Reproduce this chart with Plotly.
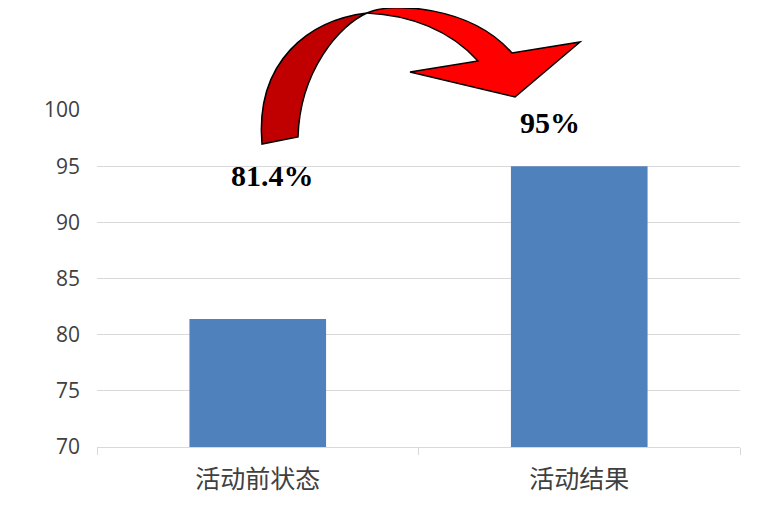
import plotly.graph_objects as go

# data
categories = ['活动前状态', '活动结果']
values = [81.4, 95]
y_ticks = [70, 75, 80, 85, 90, 95, 100]

# page body adds an 8px margin, so the figure is drawn 8px smaller
OFF = 8
W, H = 760 - OFF, 507 - OFF
L, R, T, B = 97 - OFF, 20, 110 - OFF, 60
pw, ph = W - L - R, H - T - B

def px(x, y):
    # screen pixel coords -> paper coords
    x, y = x - OFF, y - OFF
    return (x - L) / pw, (H - B - y) / ph

def path(cmds):
    out = []
    for c in cmds:
        if isinstance(c, str):
            out.append(c)
        else:
            xx, yy = px(*c)
            out.append('%.4f,%.4f' % (xx, yy))
    return ' '.join(out)

# curved arrow, back (dark) part and front (bright) part
dark = path(['M', (262, 144), 'C', (255, 60), (310, 20), (367, 13),
             'C', (340, 25), (300, 70), (298, 137), 'Z'])
bright = path(['M', (367, 13), 'C', (390, 2), (470, 5), (512, 53),
               'L', (580, 42), 'L', (515, 97), 'L', (410, 72), 'L', (478, 61),
               'C', (450, 30), (410, 15), (367, 13), 'Z'])

fig = go.Figure()
fig.add_trace(go.Bar(
    x=categories,
    y=values,
    width=0.425,
    marker=dict(color='#4F81BD', line=dict(width=0)),
    showlegend=False))

fig.add_shape(type='path', path=dark, xref='paper', yref='paper',
              fillcolor='#C00000', line=dict(color='black', width=1.5))
fig.add_shape(type='path', path=bright, xref='paper', yref='paper',
              fillcolor='#FF0000', line=dict(color='black', width=1.5))

label_pos = [(15, 175), (-29, 122)]
for c, v, (dx, yp) in zip(categories, values, label_pos):
    fig.add_annotation(
        x=c, y=px(0, yp)[1], xref='x', yref='paper',
        xanchor='center', yanchor='middle',
        xshift=dx, text='<b>%s%%</b>' % ('%g' % v), showarrow=False,
        font=dict(family='Liberation Serif', size=30, color='black'))

fig.update_layout(
    width=W, height=H,
    margin=dict(l=L, r=R, t=T, b=B),
    paper_bgcolor='white', plot_bgcolor='white',
    bargap=0.575,
    xaxis=dict(
        showline=True, linecolor='#D9D9D9', linewidth=1,
        ticks='outside', tickson='boundaries', ticklen=7, tickcolor='#D9D9D9',
        ticklabelstandoff=10,
        tickfont=dict(family='Noto Sans CJK SC', size=25, color='#404040'),
        showgrid=False),
    yaxis=dict(
        range=[70, 100], tickvals=y_ticks,
        showgrid=True, gridcolor='#D9D9D9', gridwidth=1,
        zeroline=False, ticks='', ticklabelstandoff=16,
        tickfont=dict(family='Open Sans', size=21, color='#404040')))

fig.write_html('out.html')
